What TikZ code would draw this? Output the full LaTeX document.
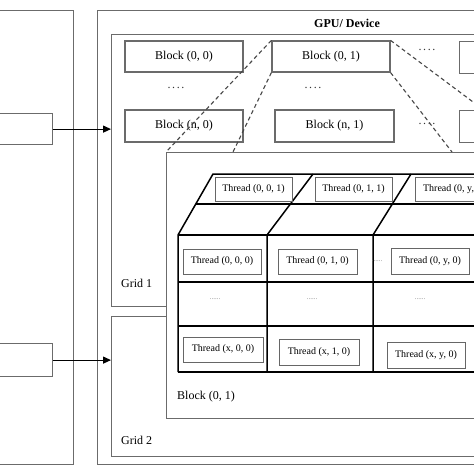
\documentclass[tikz,border=0pt]{standalone}
\usepackage{fontspec}
\setmainfont{Liberation Serif}
\usetikzlibrary{arrows.meta}
\newcommand{\wdots}{.\kern1.6pt.\kern1.6pt.\kern1.6pt.}
\begin{document}
\begin{tikzpicture}[x=1pt,y=-1pt,
  box/.style={draw=black!58, line width=1.2pt, fill=white, inner sep=0pt, font=\fontsize{12}{14}\selectfont},
  tbox/.style={draw=black!60, line width=1pt, inner sep=0pt, font=\fontsize{10}{12}\selectfont},
  gline/.style={line width=1.5pt, draw=black},
  dashline/.style={draw=black!72, line width=1.1pt, dash pattern=on 4pt off 3pt},
  arr/.style={line width=1.2pt, -{Triangle[length=8pt,width=7pt]}},
  lbl/.style={font=\fontsize{12}{14}\selectfont, inner sep=0pt, anchor=west},
  dots/.style={font=\fontsize{12}{14}\selectfont, inner sep=0pt, text=black!80},
  sdots/.style={font=\fontsize{7}{8}\selectfont, text=black!50, inner sep=0pt}]
\useasboundingbox (0,0) rectangle (474,474);
\clip (0,0) rectangle (474,474);
% host side
\node[box, minimum width=90, minimum height=454, anchor=north west] (host) at (-17,10) {};
\node[box, minimum width=72, minimum height=31, anchor=north west] (h1) at (-20,113) {};
\node[box, minimum width=72, minimum height=33, anchor=north west] (h2) at (-20,343) {};
% device
\node[box, minimum width=420, minimum height=454, anchor=north west] (gpu) at (97,10) {};
\node[font=\bfseries\fontsize{12}{14}\selectfont, inner sep=0pt] (gputitle) at (347,23) {GPU/ Device};
\node[box, minimum width=400, minimum height=272, anchor=north west] (grid1) at (111,34) {};
\node[box, minimum width=400, minimum height=140, anchor=north west] (grid2) at (111,316) {};
\node[lbl] (g1lbl) at (121,283) {Grid 1};
\node[lbl] (g2lbl) at (121,440) {Grid 2};
% blocks of grid 1
\node[box, minimum width=118, minimum height=31] (b00) at (184,56.5) {Block (0, 0)};
\node[box, minimum width=118, minimum height=31] (b01) at (331,56.5) {Block (0, 1)};
\node[box, minimum width=60, minimum height=32, anchor=north west] (b0r) at (459,41) {};
\node[box, minimum width=118, minimum height=32] (bn0) at (184,126) {Block (n, 0)};
\node[box, minimum width=119, minimum height=32] (bn1) at (334.5,126) {Block (n, 1)};
\node[box, minimum width=60, minimum height=32, anchor=north west] (bnr) at (459,110) {};
\node[dots] (d1) at (176,88) {\wdots};
\node[dots] (d2) at (313,88) {\wdots};
\node[dots] (d3) at (427,50) {\wdots};
\node[dots] (d4) at (427,124) {\wdots};
% enlarged block
\node[box, minimum width=400, minimum height=266, anchor=north west] (blk) at (166,152) {};
\node[lbl] (blklbl) at (177,397) {Block (0, 1)};
\coordinate (e1) at (166,152);
\coordinate (e2) at (233,152);
\coordinate (e3) at (452,152);
\coordinate (e4) at (540,152);
\draw[dashline] (b01.north west) -- (e1);
\draw[dashline] (b01.south west) -- (e2);
\draw[dashline] (b01.south east) -- (e3);
\draw[dashline] (b01.north east) -- (e4);
% thread grid (3D)
\draw[gline] (178,372) -- (178,235) -- (213,174) -- (480,174);
\draw[gline] (267,372) -- (267,235) -- (313,174);
\draw[gline] (373,372) -- (373,235) -- (411,174);
\draw[gline] (196,204) -- (480,204);
\draw[gline] (178,235) -- (480,235);
\draw[gline] (178,282) -- (480,282);
\draw[gline] (178,326) -- (480,326);
\draw[gline] (178,372) -- (480,372);
% threads
\node[tbox, minimum width=77, minimum height=24] (t001) at (253.5,189) {Thread (0, 0, 1)};
\node[tbox, minimum width=77, minimum height=24] (t011) at (353.5,189) {Thread (0, 1, 1)};
\node[tbox, minimum width=78, minimum height=24] (t0y1) at (454,189) {Thread (0, y, 1)};
\node[tbox, minimum width=78, minimum height=25] (t000) at (222,261.5) {Thread (0, 0, 0)};
\node[tbox, minimum width=79, minimum height=25] (t010) at (317.5,261.5) {Thread (0, 1, 0)};
\node[tbox, minimum width=78, minimum height=26] (t0y0) at (430,261) {Thread (0, y, 0)};
\node[tbox, minimum width=80, minimum height=25] (tx00) at (223,349.5) {Thread (x, 0, 0)};
\node[tbox, minimum width=80, minimum height=26] (tx10) at (319,352) {Thread (x, 1, 0)};
\node[tbox, minimum width=78, minimum height=26] (txy0) at (426,355) {Thread (x, y, 0)};
\node[sdots] (s0) at (377,261) {......};
\node[sdots] (s1) at (215,299) {......};
\node[sdots] (s2) at (312,299) {......};
\node[sdots] (s3) at (420,299) {......};
% arrows host -> grids
\draw[arr] (h1.east) -- (h1.east -| grid1.west);
\draw[arr] (h2.east) -- (h2.east -| grid2.west);
\end{tikzpicture}
\end{document}
